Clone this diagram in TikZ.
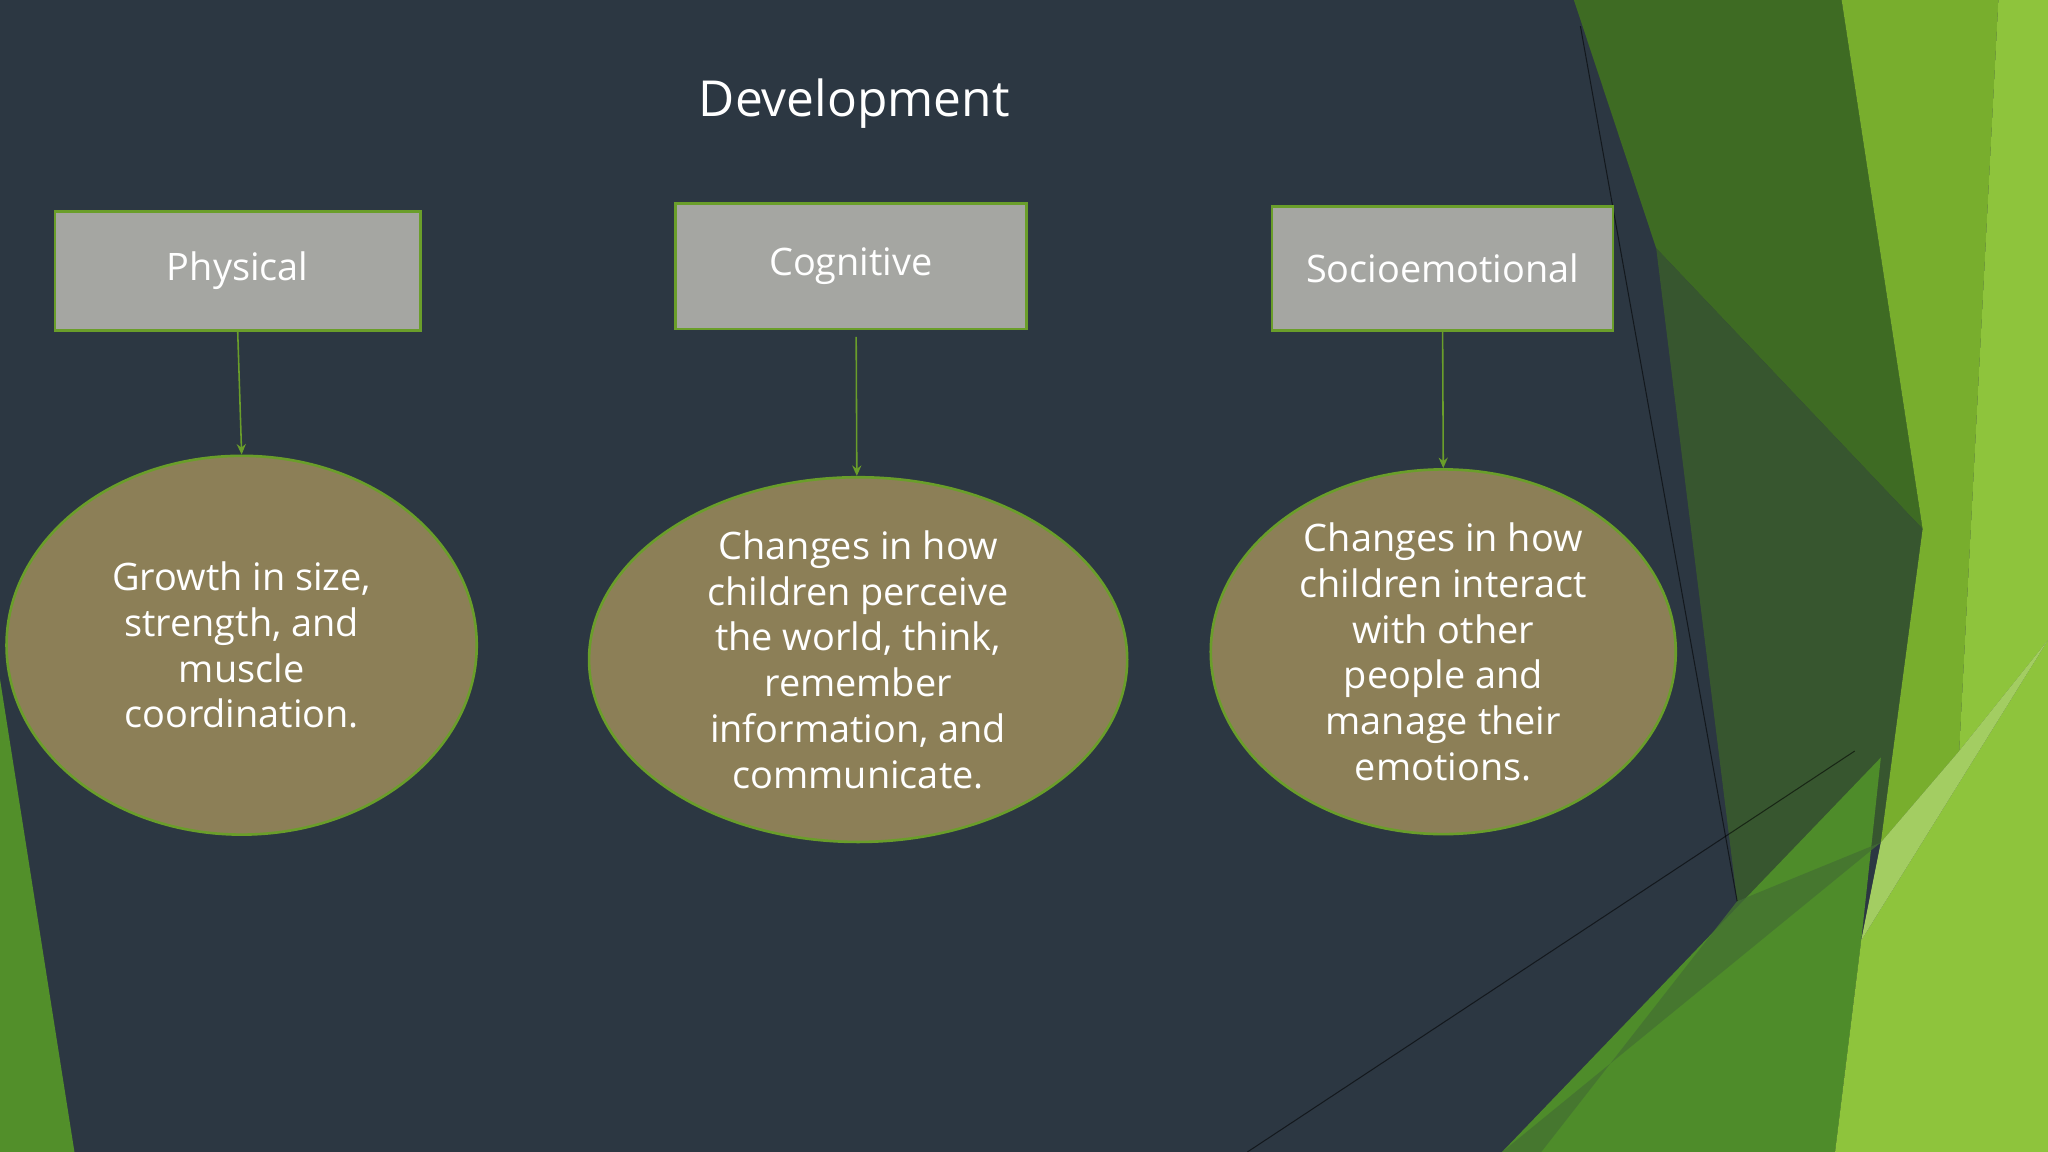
\documentclass[tikz,border=0pt]{standalone}
\usepackage{fontspec}
\setmainfont{Open Sans}
\usetikzlibrary{shapes.geometric,arrows.meta}
\definecolor{bg}{HTML}{2C3742}
\definecolor{gA}{HTML}{3E6B23}
\definecolor{gB}{HTML}{78AE2D}
\definecolor{gC}{HTML}{8EC43C}
\definecolor{gD}{HTML}{4E8C2A}
\definecolor{gE}{HTML}{A3CD62}
\definecolor{boxc}{HTML}{A5A6A2}
\definecolor{ellc}{HTML}{8C7F57}
\definecolor{edge}{HTML}{6A9E2A}
\tikzset{
 cat/.style={draw=edge,line width=2pt,fill=boxc,text=white,font=\fontsize{29}{35}\selectfont,inner sep=0},
 oval/.style={ellipse,draw=edge,line width=2pt,fill=ellc,text=white,font=\fontsize{29}{35}\selectfont,align=center,inner sep=0},
 link/.style={draw=edge,line width=1.2pt,-{Stealth[length=8pt,width=7pt]}}
}
\begin{document}
\begin{tikzpicture}[x=1pt,y=-1pt]
\fill[bg] (0,0) rectangle (1568,882);
\useasboundingbox (0,0) rectangle (1568,882);
% left sliver
\fill[gD!90!gB] (0,520) -- (0,882) -- (57,882) -- cycle;
% right decorations
\fill[gA] (1205,0) -- (1410,0) -- (1472,405) -- (1268,190) -- cycle;
\fill[gA!60!bg] (1268,190) -- (1472,405) -- (1440,645) -- (1330,690) -- cycle;
\fill[gB] (1410,0) -- (1530,0) -- (1500,575) -- (1440,645) -- (1472,405) -- cycle;
\fill[gC] (1530,0) -- (1568,0) -- (1568,490) -- (1500,575) -- cycle;
\fill[gD] (1150,882) -- (1440,580) -- (1425,720) -- (1405,882) -- cycle;
\fill[gD!70!bg,opacity=.8] (1180,882) -- (1330,690) -- (1440,645) -- (1150,882) -- cycle;
\fill[gC] (1405,882) -- (1425,720) -- (1568,490) -- (1568,882) -- cycle;
\fill[gE] (1425,720) -- (1440,645) -- (1500,575) -- (1568,490) -- cycle;
\draw[black,opacity=.55,line width=.8pt] (1210,20) -- (1330,690);
\draw[black,opacity=.55,line width=.8pt] (955,882) -- (1420,575);
% title
\node[text=white,font=\fontsize{38}{44}\selectfont] (title) at (654,79) {Development};
% boxes
\node[cat,minimum width=280,minimum height=91] (phys) at (182,207.5) {Physical};
\node[cat,minimum width=269,minimum height=96] (cog) at (651.5,204) {Cognitive};
\node[cat,minimum width=261,minimum height=95] (soc) at (1104.5,205.5) {Socioemotional};
% ovals
\node[oval,minimum width=360,minimum height=290] (e1) at (185,494) {Growth in size,\\strength, and\\muscle\\coordination.};
\node[oval,minimum width=412,minimum height=274] (e2) at (657,505) {Changes in how\\children perceive\\the world, think,\\remember\\information, and\\communicate.};
\node[oval,minimum width=356,minimum height=274] (e3) at (1105,499) {Changes in how\\children interact\\with other\\people and\\manage their\\emotions.};
\draw[link] (phys.south) -- (e1.north);
\draw[link] ([xshift=4pt,yshift=-5pt]cog.south) -- ([xshift=-1pt]e2.north);
\draw[link] (soc.south) -- (e3.north);
\end{tikzpicture}
\end{document}
